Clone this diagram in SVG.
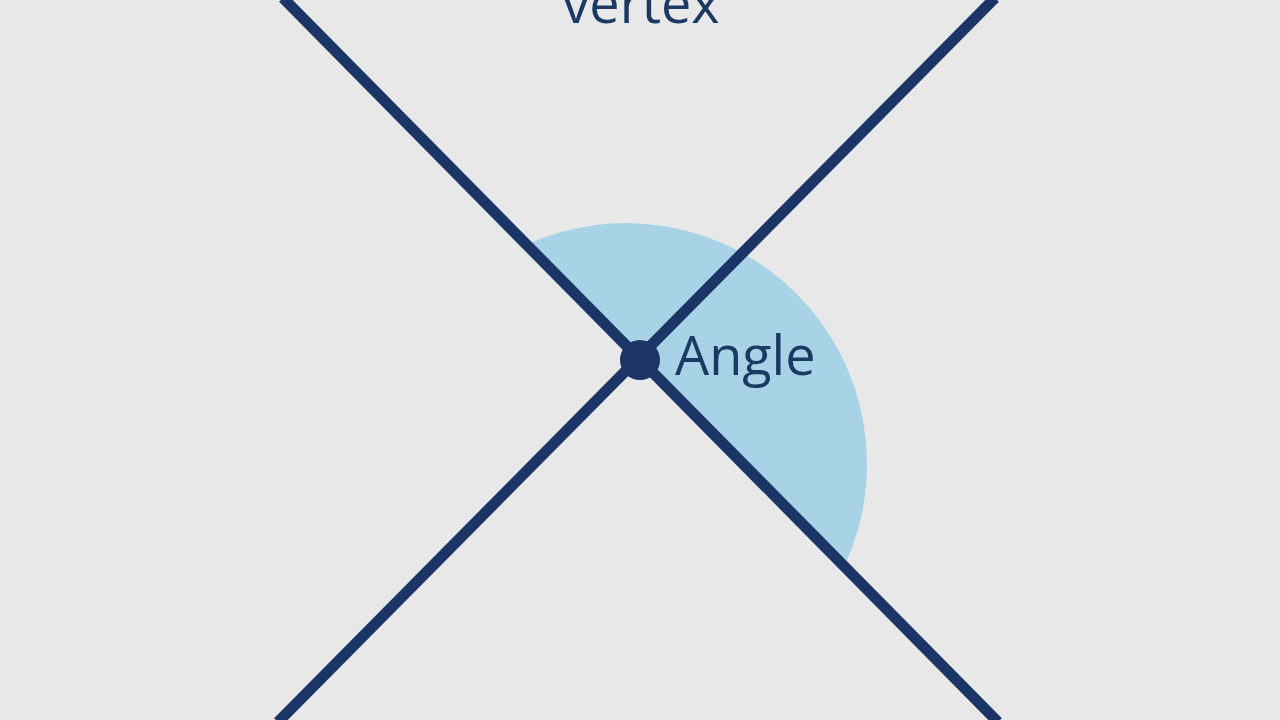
<svg xmlns="http://www.w3.org/2000/svg" width="1280" height="720" viewBox="0 0 1280 720">
  <style>
    .line { stroke: #1b3566; stroke-width: 11; fill: none; }
    .lbl { font-family: "Open Sans", "Noto Sans", "Liberation Sans", sans-serif; font-size: 54px; fill: #1b3a63; }
  </style>
  <rect x="0" y="0" width="1280" height="720" fill="#e8e8e8"/>
  <g id="angle-region">
    <path d="M526,244.8 A241,241 0 0 1 844.6,565.6 Z" fill="#a8d3e7"/>
  </g>
  <g id="connectors">
    <line class="line" x1="283" y1="-2" x2="998" y2="722"/>
    <line class="line" x1="995" y1="-2" x2="278" y2="722"/>
  </g>
  <g id="vertex">
    <circle cx="640" cy="360" r="20" fill="#1b3566"/>
  </g>
  <g id="labels">
    <text class="lbl" x="641" y="23" text-anchor="middle">vertex</text>
    <text class="lbl" x="675" y="375">Angle</text>
  </g>
</svg>
